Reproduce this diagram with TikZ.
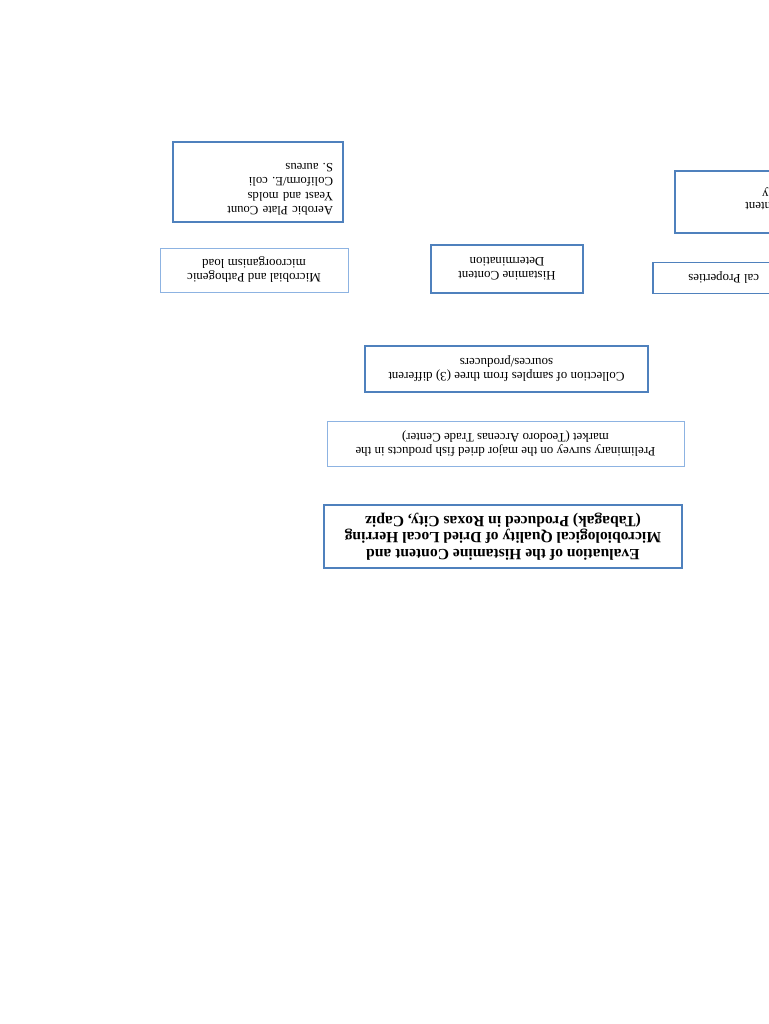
\documentclass[tikz,border=0pt]{standalone}
\usepackage{fontspec}
\setmainfont{Liberation Serif}
\definecolor{boxblue}{RGB}{79,129,189}
\definecolor{lightblue}{RGB}{141,179,226}
\tikzset{
  box/.style={draw=boxblue, line width=0.9pt, rotate=180, inner sep=0pt,
    align=center, font=\fontsize{9.7}{10.6}\selectfont},
  thinbox/.style={box, draw=lightblue, line width=0.6pt},
  frag/.style={rotate=180, inner sep=0pt, font=\fontsize{9.7}{10.6}\selectfont}
}
\begin{document}
\begin{tikzpicture}[x=0.75pt, y=-0.75pt]
\useasboundingbox (0,0) rectangle (768,1024);
% Boites
\node[box, minimum width=268.5pt, minimum height=47.25pt,
  font=\fontsize{11.7}{12.4}\selectfont\bfseries] (title) at (503,536.5)
  {Evaluation of the Histamine Content and\\Microbiological Quality of Dried Local Herring\\(Tabagak) Produced in Roxas City, Capiz};
\node[thinbox, minimum width=267.75pt, minimum height=33.75pt] (survey) at (505.5,443.5)
  {Preliminary survey on the major dried fish products in the\\market (Teodoro Arcenas Trade Center)};
\node[box, minimum width=212.25pt, minimum height=34.5pt] (collect) at (506.5,369)
  {Collection of samples from three (3) different\\sources/producers};
\node[box, minimum width=114pt, minimum height=36pt] (histamine) at (507,269)
  {Histamine Content\\Determination};
\node[thinbox, minimum width=141pt, minimum height=33pt] (microbial) at (254,270)
  {Microbial and Pathogenic\\microorganism load};
\node[box, minimum width=127.5pt, minimum height=60pt, align=left,
  text width=112.5pt, text depth=44pt, font=\fontsize{9.5}{10.9}\selectfont] (aerobic) at (258,182)
  {Aerobic Plate Count\\Yeast and molds\\Coliform/E. coli\\S. aureus};
% Boites coupees au bord
\node[box, minimum width=138.75pt, minimum height=46.5pt] (content) at (767.5,202) {};
\node[box, minimum width=155.25pt, minimum height=23.25pt] (properties) at (756.5,278) {};
\node[frag, anchor=east] (contentA) at (745,206) {ntent};
\node[frag, anchor=east] (contentB) at (762,192) {y};
\node[frag, anchor=east] (propA) at (688,278) {cal Properties};
\end{tikzpicture}
\end{document}
